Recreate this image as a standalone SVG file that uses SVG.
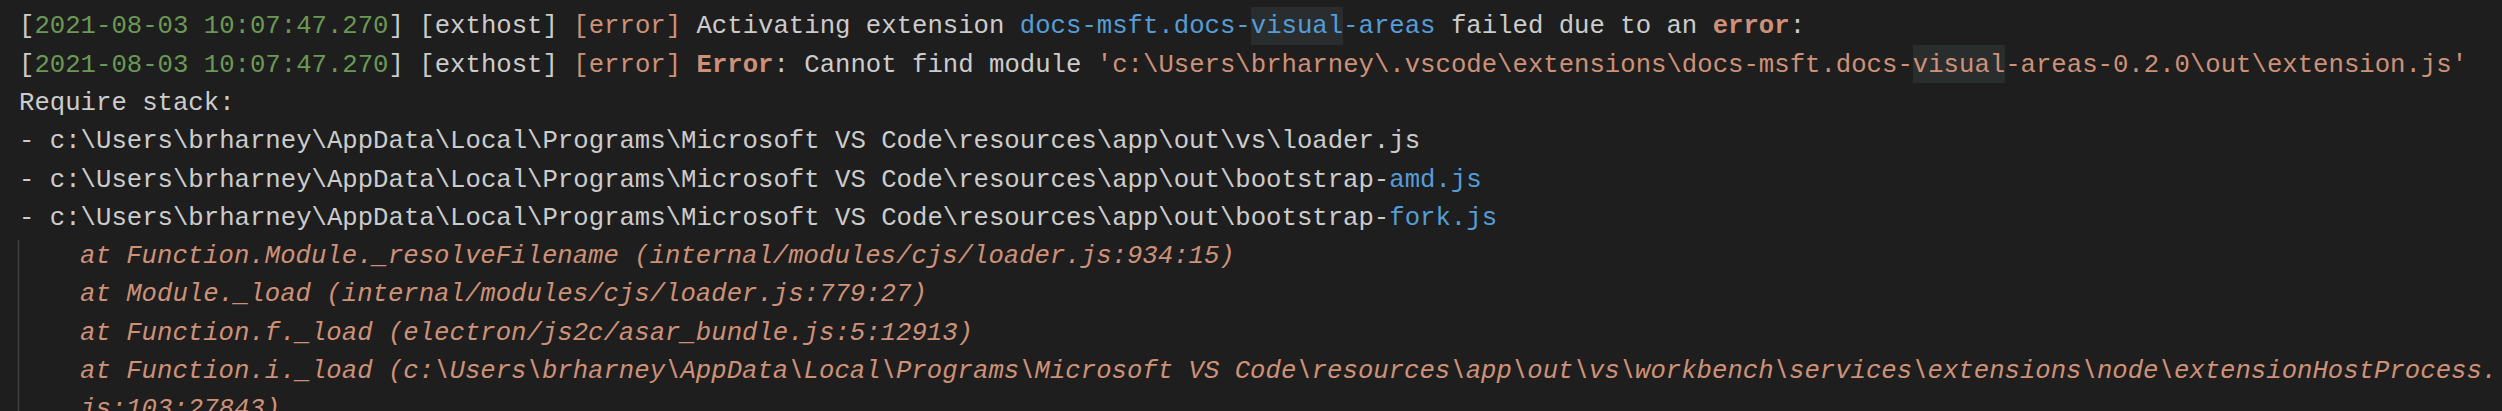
<svg xmlns="http://www.w3.org/2000/svg" width="2502" height="411" viewBox="0 0 2502 411">
<style>
text{font-family:"Liberation Mono","DejaVu Sans Mono",monospace;font-size:25.67px;fill:#cccccc;white-space:pre}
.g{fill:#6a9955}.o{fill:#ce9178}.b{fill:#569cd6}.bd{font-weight:bold}.it{font-style:italic;fill:#ce9178}
</style>
<rect width="2502" height="411" fill="#1e1e1e"/>
<rect x="1251" y="7" width="92" height="38" fill="#2a2d2e"/>
<rect x="1913" y="45" width="92" height="38" fill="#2a2d2e"/>
<line x1="18.5" y1="240" x2="18.5" y2="411" stroke="#404040" stroke-width="1.5"/>
<g id="log" xml:space="preserve">
<text x="19" y="33">[<tspan class="g">2021-08-03 10:07:47.270</tspan>] [exthost] <tspan class="o">[error]</tspan> Activating extension <tspan class="b">docs-msft.docs-visual-areas</tspan> failed due to an <tspan class="o bd">error</tspan>:</text>
<text x="19" y="72">[<tspan class="g">2021-08-03 10:07:47.270</tspan>] [exthost] <tspan class="o">[error]</tspan> <tspan class="o bd">Error</tspan>: Cannot find module <tspan class="o">'c:\Users\brharney\.vscode\extensions\docs-msft.docs-visual-areas-0.2.0\out\extension.js'</tspan></text>
<text x="19" y="110">Require stack:</text>
<text x="19" y="148">- c:\Users\brharney\AppData\Local\Programs\Microsoft VS Code\resources\app\out\vs\loader.js</text>
<text x="19" y="187">- c:\Users\brharney\AppData\Local\Programs\Microsoft VS Code\resources\app\out\bootstrap-<tspan class="b">amd.js</tspan></text>
<text x="19" y="225">- c:\Users\brharney\AppData\Local\Programs\Microsoft VS Code\resources\app\out\bootstrap-<tspan class="b">fork.js</tspan></text>
<text class="it" x="80" y="263">at Function.Module._resolveFilename (internal/modules/cjs/loader.js:934:15)</text>
<text class="it" x="80" y="301">at Module._load (internal/modules/cjs/loader.js:779:27)</text>
<text class="it" x="80" y="340">at Function.f._load (electron/js2c/asar_bundle.js:5:12913)</text>
<text class="it" x="80" y="378">at Function.i._load (c:\Users\brharney\AppData\Local\Programs\Microsoft VS Code\resources\app\out\vs\workbench\services\extensions\node\extensionHostProcess.</text>
<text class="it" x="80" y="416">js:103:27843)</text>
</g>
</svg>
